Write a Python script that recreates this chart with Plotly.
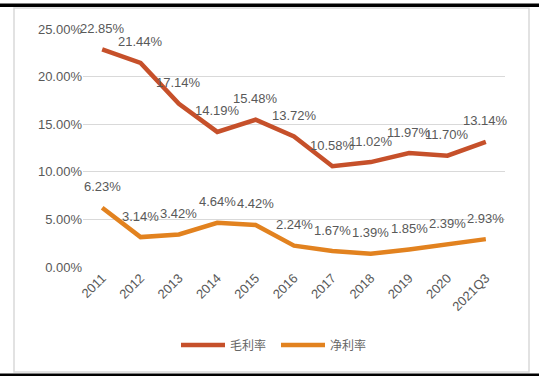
import plotly.graph_objects as go

categories = ["2011", "2012", "2013", "2014", "2015", "2016", "2017", "2018", "2019", "2020", "2021Q3"]
gross_margin = [22.85, 21.44, 17.14, 14.19, 15.48, 13.72, 10.58, 11.02, 11.97, 11.70, 13.14]
net_margin = [6.23, 3.14, 3.42, 4.64, 4.42, 2.24, 1.67, 1.39, 1.85, 2.39, 2.93]
series_names = ["毛利率", "净利率"]
y_ticks = [0, 5, 10, 15, 20, 25]

c_gross = "#C6502A"
c_net = "#E2821F"
txt = "#595959"
fam = "Liberation Sans, Arial"

xs = list(range(len(categories)))

fig = go.Figure()
fig.add_trace(go.Scatter(x=xs, y=gross_margin, mode="lines", name=series_names[0],
                         line=dict(color=c_gross, width=4.5), hoverinfo="skip"))
fig.add_trace(go.Scatter(x=xs, y=net_margin, mode="lines", name=series_names[1],
                         line=dict(color=c_net, width=4.5), hoverinfo="skip"))

annotations = []
for series in (gross_margin, net_margin):
    for i, v in zip(xs, series):
        annotations.append(dict(x=i, y=v, text=f"{v:.2f}%", showarrow=False,
                                xref="x", yref="y", yanchor="middle", yshift=21,
                                font=dict(family=fam, size=13, color=txt)))

L, R, T, B = 83, 505, 29, 267
W, H = 539, 376
def px(x):
    return (x - L) / (R - L)
def py(y):
    return (B - y) / (B - T)

shapes = [
    dict(type="rect", xref="paper", yref="paper", x0=px(14), x1=px(529), y0=py(372), y1=py(8),
         line=dict(color="#d9d9d9", width=1.5), fillcolor="rgba(0,0,0,0)", layer="below"),
    dict(type="rect", xref="paper", yref="paper", x0=px(0), x1=px(539), y0=py(7), y1=py(3.5),
         line=dict(width=0), fillcolor="#000000", layer="above"),
    dict(type="rect", xref="paper", yref="paper", x0=px(0), x1=px(539), y0=py(376), y1=py(373.5),
         line=dict(width=0), fillcolor="#000000", layer="above"),
]

fig.update_layout(
    width=W, height=H,
    margin=dict(l=L, r=W - R, t=T, b=H - B),
    paper_bgcolor="white", plot_bgcolor="white",
    font=dict(family=fam, size=13, color=txt),
    showlegend=True,
    legend=dict(orientation="h", x=px(176), xanchor="left", y=py(345), yanchor="middle",
                font=dict(family="Noto Sans CJK SC", size=12, color="#666666"),
                itemwidth=44, entrywidth=41),
    xaxis=dict(range=[-0.5, len(categories) - 0.5], tickvals=xs, ticktext=categories,
               tickangle=-45, showgrid=False, showline=False, ticks="", zeroline=False,
               tickfont=dict(family=fam, size=13, color=txt)),
    yaxis=dict(range=[0, 25], tickvals=y_ticks, ticktext=[f"{t:.2f}%" for t in y_ticks],
               showgrid=True, gridcolor="#d9d9d9", gridwidth=1, zeroline=False, showline=False,
               tickfont=dict(family=fam, size=13, color=txt), ticks=""),
    annotations=annotations,
    shapes=shapes,
)

fig.write_html("out.html", config={"displayModeBar": False},
               post_script="document.body.style.margin='0';")
